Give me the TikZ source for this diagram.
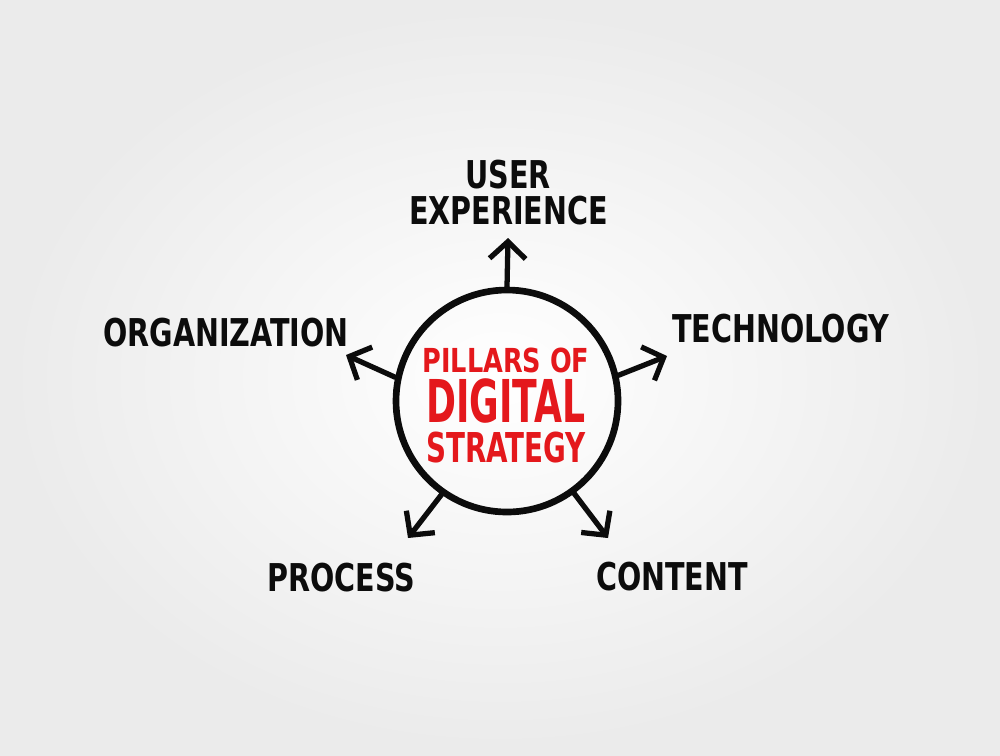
\documentclass[tikz,border=0pt]{standalone}
\usepackage{fontspec}
\setmainfont{DejaVu Sans Condensed}
\usetikzlibrary{arrows.meta}
\definecolor{pillarred}{RGB}{228,24,28}
\definecolor{inkblack}{RGB}{12,12,12}

\begin{document}
\begin{tikzpicture}[
    % Styles
    pillar/.style={font=\fontsize{10.9}{12}\selectfont\bfseries, text=inkblack, xscale=0.83, inner sep=0pt, align=center},
    hub/.style={circle, draw=inkblack, line width=1.9pt, minimum size=2.22cm, inner sep=0pt},
    hubtext/.style={text=pillarred, inner sep=0pt, anchor=base},
    pillar-arrow/.style={-{Straight Barb[length=1.7mm, width=3.6mm]}, line width=1.5pt, inkblack, line cap=round},
]

% Background
\shade[inner color=white, outer color=gray!16] (0,0) rectangle (10,7.55);
\useasboundingbox (0,0) rectangle (10,7.55);

% Centre circle
\node[hub] (hub) at (5.07, 3.54) {};
\node[hubtext, font=\fontsize{9.4}{10}\selectfont\bfseries, xscale=0.86] (pillars) at (5.06, 3.83) {PILLARS OF};
\node[hubtext, font=\fontsize{16.8}{18}\selectfont\bfseries, xscale=0.68] (digital) at (5.06, 3.33) {DIGITAL};
\node[hubtext, font=\fontsize{11.7}{13}\selectfont\bfseries, xscale=0.75] (strategy) at (5.06, 2.93) {STRATEGY};

% Pillars
\node[pillar] (user) at (5.08, 5.80) {USER};
\node[pillar] (experience) at (5.085, 5.44) {EXPERIENCE};
\node[pillar] (technology) at (7.81, 4.26) {TECHNOLOGY};
\node[pillar] (organization) at (2.26, 4.22) {ORGANIZATION};
\node[pillar] (process) at (3.41, 1.77) {PROCESS};
\node[pillar] (content) at (6.72, 1.78) {CONTENT};

% Arrow tips
\coordinate (tip-ux) at (5.08, 5.17);
\coordinate (tip-tech) at (6.67, 3.99);
\coordinate (tip-org) at (3.46, 4.00);
\coordinate (tip-proc) at (4.08, 2.17);
\coordinate (tip-cont) at (6.08, 2.17);

% Arrows
\draw[pillar-arrow] (hub.90) -- (tip-ux);
\draw[pillar-arrow] (hub.13) -- (tip-tech);
\draw[pillar-arrow] (hub.168) -- (tip-org);
\draw[pillar-arrow] (hub.235) -- (tip-proc);
\draw[pillar-arrow] (hub.306) -- (tip-cont);

\end{tikzpicture}
\end{document}
